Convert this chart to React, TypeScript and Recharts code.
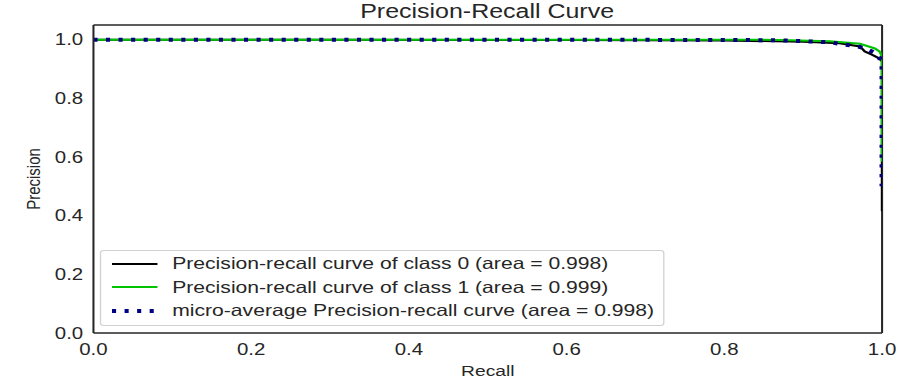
import { LineChart, Line, XAxis, YAxis, ReferenceLine } from 'recharts';

// recall / precision pairs
const class0Recall = [0, 0.3, 0.6, 0.8, 0.9, 0.946, 0.972, 0.978, 0.987, 0.995, 1.0, 1.0];
const class0Precision = [1.0, 1.0, 0.999, 0.997, 0.993, 0.988, 0.977, 0.96, 0.949, 0.938, 0.926, 0.416];

const class1Recall = [0, 0.5, 0.8, 0.871, 0.934, 0.972, 0.991, 0.997, 1.0, 1.0];
const class1Precision = [1.0, 1.0, 1.0, 0.999, 0.995, 0.986, 0.97, 0.959, 0.942, 0.584];

const microRecall = [0, 0.5, 0.8, 0.871, 0.934, 0.946, 0.962, 0.972, 0.983, 0.991, 0.997, 1.0, 1.0];
const microPrecision = [1.0, 1.0, 0.999, 0.998, 0.991, 0.986, 0.98, 0.975, 0.964, 0.955, 0.938, 0.909, 0.5];

const xTicks = [0, 0.2, 0.4, 0.6, 0.8, 1.0];
const yTicks = [0, 0.2, 0.4, 0.6, 0.8, 1.0];

const toPoints = (r: number[], p: number[]) => r.map((x, i) => ({ recall: x, precision: p[i] }));

const DOTS = '3.2 6.6';

const series = [
    { key: 'c0', name: 'Precision-recall curve of class 0 (area = 0.998)', color: '#000000', width: 2, dash: undefined, data: toPoints(class0Recall, class0Precision) },
    { key: 'c1', name: 'Precision-recall curve of class 1 (area = 0.999)', color: '#00c400', width: 2, dash: undefined, data: toPoints(class1Recall, class1Precision) },
    { key: 'micro', name: 'micro-average Precision-recall curve (area = 0.998)', color: '#000080', width: 4, dash: DOTS, data: toPoints(microRecall, microPrecision) },
];

// the reference is horizontally stretched, so draw narrower and scale X
const W = 703;
const H = 386;
const SX = 900 / W;
const FONT = '"Liberation Sans", Arial, Helvetica, sans-serif';
const INK = '#262626';
const SPINE = 1.6;

function LegendBox() {
    const rowCenters = [12.5, 36, 59.5];
    return (
        <div
            style={{
                position: 'absolute',
                left: 78,
                top: 250,
                width: 441,
                height: 76,
                boxSizing: 'border-box',
                border: '1px solid #d0d0d0',
                borderRadius: 3,
                background: 'rgba(255,255,255,0.8)',
                fontFamily: FONT,
                fontSize: 16.5,
                color: INK,
            }}
        >
            {series.map((s, i) => (
                <div key={s.key} style={{ position: 'absolute', left: 0, top: rowCenters[i] - 11, height: 22, display: 'flex', alignItems: 'center', whiteSpace: 'nowrap' }}>
                    <svg width={44} height={22} style={{ marginLeft: 8 }}>
                        <line x1={0.5} y1={11} x2={36} y2={11} stroke={s.color} strokeWidth={s.width} strokeDasharray={s.dash} />
                    </svg>
                    <span style={{ marginLeft: 3.5 }}>{s.name}</span>
                </div>
            ))}
        </div>
    );
}

export default function App() {
    return (
        <div style={{ position: 'absolute', left: 0, top: 0, width: 900, height: 386, overflow: 'hidden', background: '#fff' }}>
            <div style={{ position: 'relative', width: W, height: H, transform: `scaleX(${SX})`, transformOrigin: '0 0' }}>
                <div
                    style={{
                        position: 'absolute',
                        left: 0,
                        width: 761,
                        top: 0,
                        textAlign: 'center',
                        fontFamily: FONT,
                        fontSize: 19.5,
                        lineHeight: '22px',
                        color: INK,
                    }}
                >
                    Precision-Recall Curve
                </div>
                <LineChart width={W} height={H} margin={{ top: 25, right: 14, bottom: 0, left: 0 }}>
                    <XAxis
                        type="number"
                        dataKey="recall"
                        domain={[0, 1]}
                        ticks={xTicks}
                        tickFormatter={(v: number) => v.toFixed(1)}
                        allowDataOverflow
                        height={53}
                        tickLine={false}
                        tickSize={0}
                        tickMargin={11}
                        axisLine={{ stroke: INK, strokeWidth: SPINE }}
                        tick={{ fill: INK, fontSize: 16, fontFamily: FONT }}
                        label={{ value: 'Recall', position: 'insideBottom', offset: 10, fill: INK, fontSize: 15, fontFamily: FONT }}
                    />
                    <YAxis
                        type="number"
                        dataKey="precision"
                        domain={[0, 1.05]}
                        ticks={yTicks}
                        tickFormatter={(v: number) => v.toFixed(1)}
                        allowDataOverflow
                        width={73}
                        tickLine={false}
                        tickSize={0}
                        tickMargin={8}
                        axisLine={{ stroke: INK, strokeWidth: SPINE }}
                        tick={{ fill: INK, fontSize: 16, fontFamily: FONT }}
                        label={{ value: 'Precision', angle: -90, position: 'insideLeft', offset: 26, fill: INK, fontSize: 15, fontFamily: FONT, style: { textAnchor: 'middle' } }}
                    />
                    <ReferenceLine y={1.05} stroke={INK} strokeWidth={SPINE} />
                    <ReferenceLine x={1} stroke={INK} strokeWidth={SPINE} />
                    {series.map((s) => (
                        <Line
                            key={s.key}
                            data={s.data}
                            dataKey="precision"
                            name={s.name}
                            type="linear"
                            stroke={s.color}
                            strokeWidth={s.width}
                            strokeDasharray={s.dash}
                            dot={false}
                            activeDot={false}
                            isAnimationActive={false}
                        />
                    ))}
                </LineChart>
                <LegendBox />
            </div>
        </div>
    );
}
